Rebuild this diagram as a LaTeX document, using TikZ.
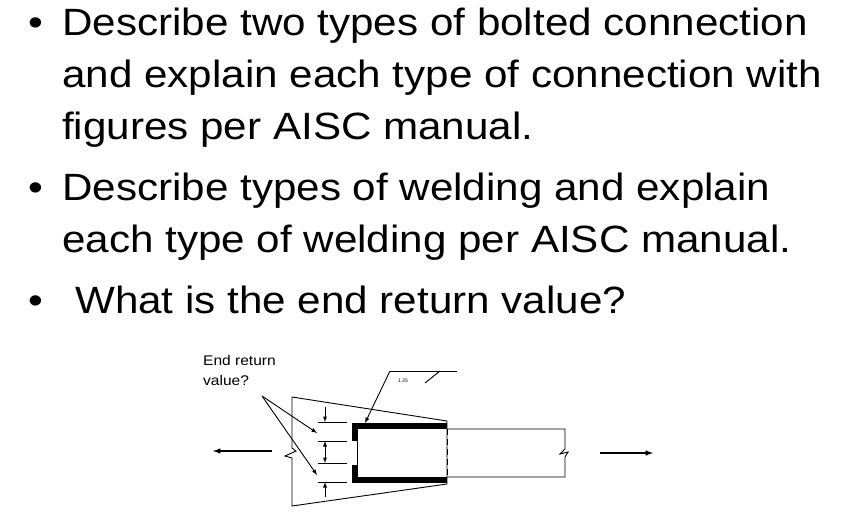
\documentclass[tikz,border=0pt]{standalone}
\usepackage{fontspec}
\setmainfont{Liberation Sans}
\newfontfamily\widefont[FakeStretch=1.11]{Liberation Sans}
\begin{document}
\begin{tikzpicture}[x=1pt,y=-1pt,
  big/.style={anchor=base west,inner sep=0,font=\widefont\fontsize{38}{38}\selectfont},
  small/.style={anchor=base west,inner sep=0,font=\widefont\fontsize{14}{14}\selectfont},
  thin/.style={line width=0.9pt}]
\useasboundingbox (0,0) rectangle (855,515);
% bullets
\foreach \y in {35,200,313} \node[big] at (28,\y) {•};
\node[big] (l1) at (62,35) {Describe two types of bolted connection};
\node[big] (l2) at (62,87) {and explain each type of connection with};
\node[big] (l3) at (62,139) {figures per AISC manual.};
\node[big] (l4) at (62,200) {Describe types of welding and explain};
\node[big] (l5) at (62,252) {each type of welding per AISC manual.};
\node[big] (l6) at (75,313) {What is the end return value?};
% label
\node[small] (lab1) at (203,365) {End return};
\node[small] (lab2) at (203,385) {value?};
% gusset plate
\draw[thin] (292,448) -- (292,397) -- (447,421) -- (447,484) -- (292,506) -- (292,458)
  -- (285,456) -- (296,451) -- (292,448);
% member
\draw[thin] (447,429) -- (565,429) -- (565,449) -- (560,454) -- (568,452) -- (565,457) -- (565,477) -- (447,477);
\draw[thin,dash pattern=on 6pt off 4pt] (447,429) -- (447,477);
% welds
\fill (352,423) rectangle (447,429);
\fill (352,477) rectangle (447,483);
\fill (352,423) rectangle (357,441);
\fill (352,465) rectangle (357,483);
\draw[thin] (357,429) -- (357,477);
% dimension lines
\foreach \y in {422,441,463,482} \draw[thin] (318,\y) -- (347,\y);
\coordinate (d0) at (325,407); \coordinate (d1) at (325,422);
\coordinate (d2) at (325,441); \coordinate (d3) at (325,463);
\coordinate (d4) at (325,482); \coordinate (d5) at (325,497);
\draw[thin,-latex] (d0) -- (d1);
\draw[thin,latex-latex] (d2) -- (d3);
\draw[thin,-latex] (d5) -- (d4);
% leaders
\coordinate (p) at (262,396);
\coordinate (t1) at (317,433); \coordinate (t2) at (317,475);
\draw[thin,-latex] (p) -- (t1);
\draw[thin,-latex] (p) -- (t2);
% weld symbol
\coordinate (w0) at (390,371); \coordinate (w1) at (457,371); \coordinate (wt) at (365,423);
\draw[thin,-latex] (w0) -- (wt);
\draw[thin] (w0) -- (w1);
\draw[thin] (425,383) -- (440,371);
\node[anchor=center,inner sep=0,font=\fontsize{5}{5}\selectfont] (wl) at (403,381) {1.25};
% force arrows
\coordinate (a0) at (272,451); \coordinate (a1) at (213,451);
\coordinate (b0) at (600,453); \coordinate (b1) at (653,453);
\draw[line width=1.5pt,-latex] (a0) -- (a1);
\draw[line width=1.5pt,-latex] (b0) -- (b1);
\end{tikzpicture}
\end{document}
